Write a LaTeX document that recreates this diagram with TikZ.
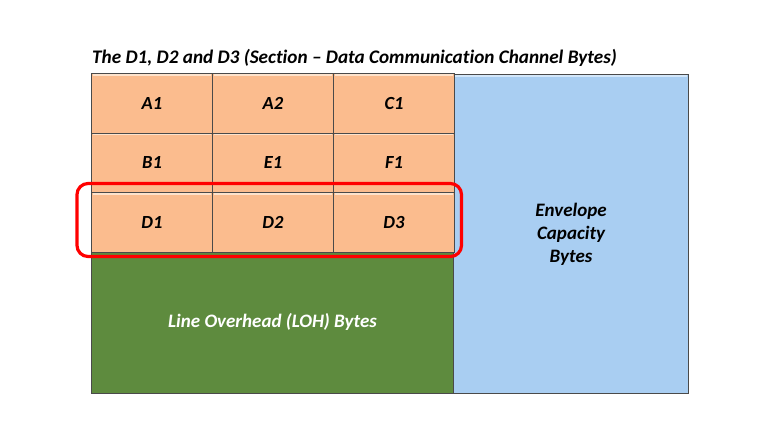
\documentclass[tikz,border=0pt]{standalone}
\usepackage{fontspec}
\setmainfont[Ligatures=NoCommon]{Carlito}
\definecolor{peach}{HTML}{FBBC8E}
\definecolor{peachlight}{HTML}{FEE3CC}
\definecolor{cellline}{HTML}{4A4A4A}
\definecolor{lohgreen}{HTML}{5E8B3E}
\definecolor{lohlight}{HTML}{8DB86A}
\definecolor{envblue}{HTML}{A9CEF2}
\definecolor{envlight}{HTML}{D3E7FA}
\begin{document}
\begin{tikzpicture}[x=1pt,y=-1pt,
  cell/.style={draw=cellline, line width=1pt, fill=peach, minimum width=121pt, minimum height=59.5pt, inner sep=0pt, anchor=north west, font=\fontsize{18.5}{22}\selectfont\bfseries\itshape},
  bigbox/.style={draw=cellline, line width=1.1pt, inner sep=0pt, anchor=north west, font=\fontsize{19}{23}\selectfont\bfseries\itshape, align=center}
]
\useasboundingbox (0,0) rectangle (768,432);
% title
\node[anchor=base west, inner sep=0pt, font=\fontsize{19.2}{22}\selectfont\bfseries\itshape] (title) at (92,63) {The D1, D2 and D3 (Section -- Data Communication Channel Bytes)};
% envelope
\node[bigbox, fill=envblue, minimum width=235pt, minimum height=319pt] (env) at (453,74) {Envelope\\Capacity\\Bytes};
\draw[envlight, line width=1.2pt] ([xshift=2pt,yshift=-2pt]env.north west) -- ([xshift=-2pt,yshift=-2pt]env.north east);
% LOH
\node[bigbox, fill=lohgreen, text=white, minimum width=362pt, minimum height=143pt] (loh) at (91,250) {Line Overhead (LOH) Bytes};
\draw[lohlight, line width=1.5pt] ([xshift=2pt,yshift=-2.5pt]loh.north west) -- ([xshift=-2pt,yshift=-2.5pt]loh.north east);
% cells
\node[cell] (a1) at (91,73) {A1};
\node[cell] (a2) at (212,73) {A2};
\node[cell] (c1) at (333,73) {C1};
\node[cell] (b1) at (91,132.5) {B1};
\node[cell] (e1) at (212,132.5) {E1};
\node[cell] (f1) at (333,132.5) {F1};
\node[cell] (d1) at (91,192) {D1};
\node[cell] (d2) at (212,192) {D2};
\node[cell] (d3) at (333,192) {D3};
\foreach \c in {a1,a2,c1,b1,e1,f1,d1,d2,d3}{
  \draw[peachlight, line width=1.2pt] ([xshift=2pt,yshift=-2pt]\c.north west) -- ([xshift=-2pt,yshift=-2pt]\c.north east);
}
% highlight frame
\draw[red, line width=3.2pt, rounded corners=11pt] (77,183.5) rectangle (461.5,256.5);
\end{tikzpicture}
\end{document}
